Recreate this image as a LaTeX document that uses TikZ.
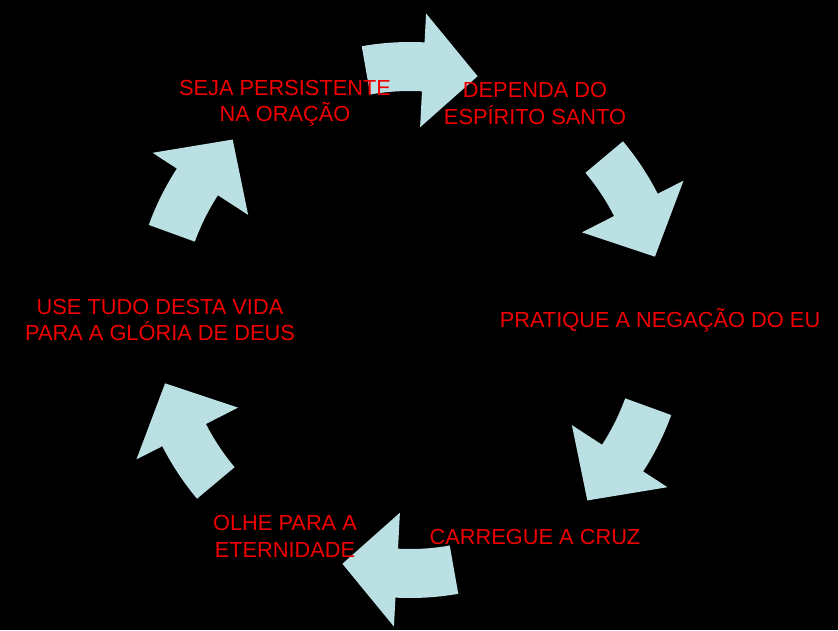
\documentclass[tikz,border=0pt]{standalone}
\usepackage{fontspec}
\setmainfont{Liberation Sans}
\usepackage{tikz}
\usetikzlibrary{positioning,calc}
\definecolor{paleblue}{HTML}{BBE0E4}
\definecolor{alarm}{HTML}{F00000}

\begin{document}
\begin{tikzpicture}[
    x=0.03cm, y=0.03cm,
    cyclelabel/.style={
      text=alarm,
      font=\fontsize{18.6}{22.5}\selectfont,
      align=center,
      inner sep=0pt
    },
    cyclearrow/.style={fill=paleblue, draw=none}
  ]
  \fill[black] (0,0) rectangle (838,630);
  \useasboundingbox (0,0) rectangle (838,630);
  \coordinate (c) at (410,310);

  % the six arrows of the cycle
  \begin{scope}[shift={(c)}]
    \foreach \a in {90,30,-30,-90,-150,150} {
      \fill[cyclearrow] (\a+10:229) arc[start angle=\a+10, end angle=\a-3, radius=229]
        -- (\a-3:193) -- (\a-15.5:253) -- (\a-3:307) -- (\a-3:278)
        arc[start angle=\a-3, end angle=\a+10, radius=278] -- cycle;
    }
  \end{scope}

  % labels
  \node[cyclelabel] (persist) at ($(c)+(120:250)$) {SEJA PERSISTENTE\\NA ORAÇÃO};
  \node[cyclelabel] (depend) at ($(c)+(60:250)$) {DEPENDA DO\\ESPÍRITO SANTO};
  \node[cyclelabel] (deny) at ($(c)+(0:250)$) {PRATIQUE A NEGAÇÃO DO EU};
  \node[cyclelabel] (cross) at ($(c)+(-60:250)$) {CARREGUE A CRUZ};
  \node[cyclelabel] (eternity) at ($(c)+(-120:250)$) {OLHE PARA A\\ETERNIDADE};
  \node[cyclelabel] (glory) at ($(c)+(180:250)$) {USE TUDO DESTA VIDA\\PARA A GLÓRIA DE DEUS};
\end{tikzpicture}
\end{document}
